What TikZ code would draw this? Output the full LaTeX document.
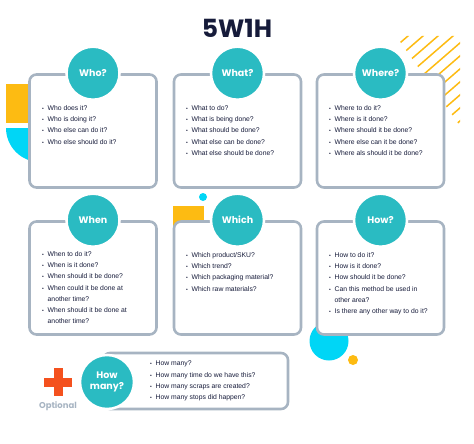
\documentclass[tikz,border=0pt]{standalone}
\usepackage{fontspec}
\setmainfont{Liberation Sans}
\newfontfamily\popfont{Poppins}
\definecolor{wteal}{HTML}{2ABBC2}
\definecolor{wline}{HTML}{A7B4C2}
\definecolor{wyellow}{HTML}{FDBB12}
\definecolor{wcyan}{HTML}{00D6F6}
\definecolor{wred}{HTML}{F4511E}
\definecolor{wink}{HTML}{161B3A}
\newcommand{\bul}{\makebox[5.5pt][l]{\fontsize{5}{5}\selectfont\textbullet}}
\newcommand{\cont}{\hspace*{5.5pt}}
\begin{document}
\begin{tikzpicture}[x=1pt,y=-1pt,
  card/.style={draw=wline, line width=2.6pt, rounded corners=7pt, fill=white,
    minimum width=127pt, minimum height=113pt, inner sep=0pt},
  head/.style={circle, fill=wteal, draw=white, line width=2.5pt, minimum size=53pt,
    inner sep=0pt, text=white, align=center,
    font=\popfont\bfseries\fontsize{9.5}{11.5}\selectfont},
  list/.style={anchor=north west, inner sep=0pt, align=left, text=wink,
    font=\fontsize{6.8}{11.3}\selectfont},
  stripe/.style={draw=wyellow, line width=1.5pt}]
  \useasboundingbox (0,0) rectangle (474,444);
  % title
  \node[text=wink, font=\popfont\bfseries\fontsize{25}{30}\selectfont] (title) at (237,28) {5W1H};
  % decorations behind the cards
  \begin{scope}
    \clip (396,36) -- (460,36) -- (460,126) -- cycle;
    \foreach \x in {288,303,...,468}
      \draw[stripe] (\x,140) -- ++(130,-112.7);
  \end{scope}
  \fill[wyellow] (6,84) rectangle (40,123);
  \begin{scope}
    \clip (0,128) rectangle (40,200);
    \fill[wcyan] (40,128) circle[radius=34pt];
  \end{scope}
  \fill[wyellow] (173,206) rectangle (204,226);
  \fill[wcyan] (203,197) circle[radius=4pt];
  \fill[wcyan] (329,341) circle[radius=19.5pt];
  \fill[wyellow] (353,360) circle[radius=5pt];
  % first row
  \node[card] (whobox) at (93,131) {};
  \node[card] (whatbox) at (237.5,131) {};
  \node[card] (wherebox) at (380.5,131) {};
  \node[head] (who) at (whobox.north) {Who?};
  \node[head] (what) at (whatbox.north) {What?};
  \node[head] (where) at (wherebox.north) {Where?};
  \node[list] (wholist) at (42,105) {\bul Who does it?\\ \bul Who is doing it?\\
    \bul Who else can do it?\\ \bul Who else should do it?};
  \node[list] (whatlist) at (186,105) {\bul What to do?\\ \bul What is being done?\\
    \bul What should be done?\\ \bul What else can be done?\\ \bul What else should be done?};
  \node[list] (wherelist) at (329,105) {\bul Where to do it?\\ \bul Where is it done?\\
    \bul Where should it be done?\\ \bul Where else can it be done?\\ \bul Where als should it be done?};
  % second row
  \node[card] (whenbox) at (93,278) {};
  \node[card] (whichbox) at (237.5,278) {};
  \node[card] (howbox) at (380.5,278) {};
  \node[head] (when) at (whenbox.north) {When};
  \node[head] (which) at (whichbox.north) {Which};
  \node[head] (how) at (howbox.north) {How?};
  \node[list] (whenlist) at (42,251) {\bul When to do it?\\ \bul When is it done?\\
    \bul When should it be done?\\ \bul When could it be done at\\ \cont another time?\\
    \bul When should it be done at\\ \cont another time?};
  \node[list] (whichlist) at (186,252) {\bul Which product/SKU?\\ \bul Which trend?\\
    \bul Which packaging material?\\ \bul Which raw materials?};
  \node[list] (howlist) at (329,252) {\bul How to do it?\\ \bul How is it done?\\
    \bul How should it be done?\\ \bul Can this method be used in\\ \cont other area?\\
    \bul Is there any other way to do it?};
  % optional row
  \node[card, minimum width=185pt, minimum height=56pt] (manybox) at (195.5,381) {};
  \node[head, minimum size=54pt] (many) at (107,382) {How\\many?};
  \node[list] (manylist) at (150,361) {\bul How many?\\ \bul How many time do we have this?\\
    \bul How many scraps are created?\\ \bul How many stops did happen?};
  \fill[wred] (53.5,368) rectangle (62.5,396);
  \fill[wred] (44,377.5) rectangle (72,386.5);
  \node[text=wline, font=\popfont\bfseries\fontsize{8.5}{10}\selectfont] (optional) at (58,406) {Optional};
\end{tikzpicture}
\end{document}
